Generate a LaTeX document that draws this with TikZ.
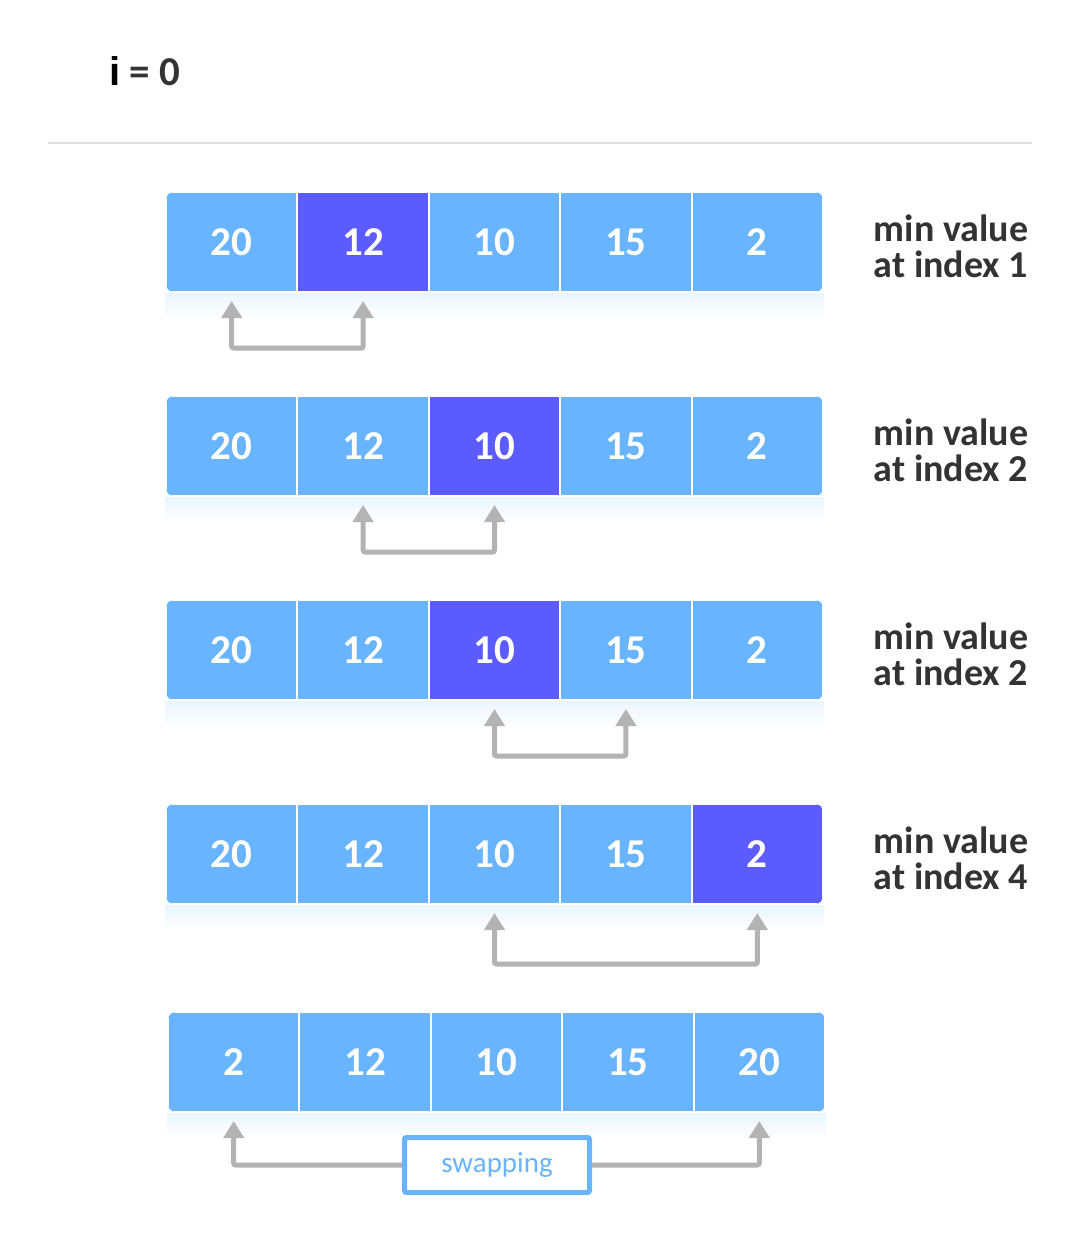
\documentclass[tikz,border=0pt]{standalone}
\usepackage{fontspec}
\setmainfont{Carlito}
\newfontfamily\arialfont{Liberation Sans}
\usetikzlibrary{arrows.meta}
\definecolor{cellblue}{HTML}{68B4FE}
\definecolor{minblue}{HTML}{5C5CFE}
\definecolor{arrowgray}{HTML}{B3B3B3}
\definecolor{textgray}{HTML}{333333}
\begin{document}
\begin{tikzpicture}[x=1pt,y=-1pt,
	cell_node/.style={rectangle,fill=cellblue,draw=white,line width=2pt,minimum width=131.4pt,minimum height=100pt,inner sep=0pt,text=white,font=\bfseries\fontsize{41}{44}\selectfont},
	min_node/.style={cell_node,fill=minblue},
	label_node/.style={align=center,text=textgray,inner sep=0pt,font=\bfseries\fontsize{38}{36}\selectfont},
	swap_node/.style={draw=cellblue,fill=white,line width=5pt,rounded corners=2pt,minimum width=185pt,minimum height=55pt,text=cellblue,font=\fontsize{29}{32}\selectfont},
	arrow_line/.style={draw=arrowgray,line width=5pt,rounded corners=2pt,{Triangle[width=20pt,length=17pt]}-{Triangle[width=20pt,length=17pt]},shorten <=8pt,shorten >=8pt},
	swap_line/.style={draw=arrowgray,line width=5pt,rounded corners=2pt,-{Triangle[width=20pt,length=17pt]},shorten >=8pt},
	shadow_box/.style={top color=cellblue!14,bottom color=white,draw=none}]

	\useasboundingbox (0,0) rectangle (1080,1244);

	\node[anchor=base west,text=textgray,inner sep=0pt,font=\bfseries\fontsize{41}{44}\selectfont] (title) at (109,86) {{\arialfont\fontsize{40}{44}\selectfont\color{black}i} = 0};
	\draw[black!12,line width=2pt] (48,143) -- (1032,143);

	% row 1
	\begin{scope}
		\clip[rounded corners=8pt] (166,192) rectangle (823,292);
		\node[cell_node] (a1) at (231.7,242) {20};
		\node[min_node] (a2) at (363.1,242) {12};
		\node[cell_node] (a3) at (494.5,242) {10};
		\node[cell_node] (a4) at (625.9,242) {15};
		\node[cell_node] (a5) at (757.3,242) {2};
	\end{scope}
	\shade[shadow_box] (a1.south west) rectangle ([yshift=-26pt]a5.south east);
	\node[label_node] (la) at (951,246) {min value\\at index 1};
	\draw[arrow_line] (a1.south) -- ++(0,55) -| (a2.south);

	% row 2
	\begin{scope}
		\clip[rounded corners=8pt] (166,396) rectangle (823,496);
		\node[cell_node] (b1) at (231.7,446) {20};
		\node[cell_node] (b2) at (363.1,446) {12};
		\node[min_node] (b3) at (494.5,446) {10};
		\node[cell_node] (b4) at (625.9,446) {15};
		\node[cell_node] (b5) at (757.3,446) {2};
	\end{scope}
	\shade[shadow_box] (b1.south west) rectangle ([yshift=-26pt]b5.south east);
	\node[label_node] (lb) at (951,450) {min value\\at index 2};
	\draw[arrow_line] (b2.south) -- ++(0,55) -| (b3.south);

	% row 3
	\begin{scope}
		\clip[rounded corners=8pt] (166,600) rectangle (823,700);
		\node[cell_node] (c1) at (231.7,650) {20};
		\node[cell_node] (c2) at (363.1,650) {12};
		\node[min_node] (c3) at (494.5,650) {10};
		\node[cell_node] (c4) at (625.9,650) {15};
		\node[cell_node] (c5) at (757.3,650) {2};
	\end{scope}
	\shade[shadow_box] (c1.south west) rectangle ([yshift=-26pt]c5.south east);
	\node[label_node] (lc) at (951,654) {min value\\at index 2};
	\draw[arrow_line] (c3.south) -- ++(0,55) -| (c4.south);

	% row 4
	\begin{scope}
		\clip[rounded corners=8pt] (166,804) rectangle (823,904);
		\node[cell_node] (d1) at (231.7,854) {20};
		\node[cell_node] (d2) at (363.1,854) {12};
		\node[cell_node] (d3) at (494.5,854) {10};
		\node[cell_node] (d4) at (625.9,854) {15};
		\node[min_node] (d5) at (757.3,854) {2};
	\end{scope}
	\shade[shadow_box] (d1.south west) rectangle ([yshift=-26pt]d5.south east);
	\node[label_node] (ld) at (951,858) {min value\\at index 4};
	\draw[arrow_line] (d3.south) -- ++(0,59) -| (d5.south);

	% row 5
	\begin{scope}
		\clip[rounded corners=8pt] (168,1012) rectangle (825,1112);
		\node[cell_node] (e1) at (233.7,1062) {2};
		\node[cell_node] (e2) at (365.1,1062) {12};
		\node[cell_node] (e3) at (496.5,1062) {10};
		\node[cell_node] (e4) at (627.9,1062) {15};
		\node[cell_node] (e5) at (759.3,1062) {20};
	\end{scope}
	\shade[shadow_box] (e1.south west) rectangle ([yshift=-26pt]e5.south east);
	\node[swap_node] (swap) at (497,1165) {swapping};
	\draw[swap_line] (swap.west) -| (e1.south);
	\draw[swap_line] (swap.east) -| (e5.south);
\end{tikzpicture}
\end{document}
